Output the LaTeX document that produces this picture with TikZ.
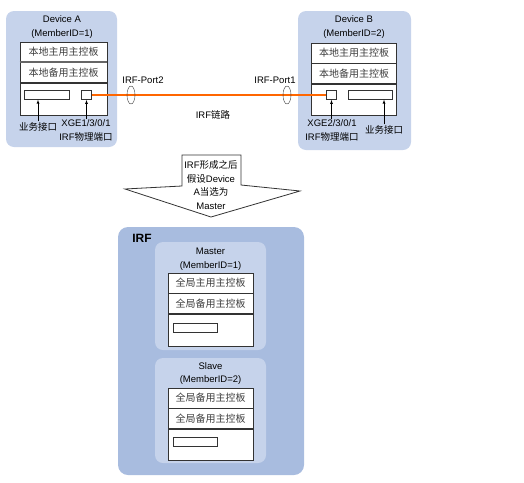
\documentclass[tikz,border=0pt]{standalone}
\usepackage{fontspec}
\setmainfont{Liberation Sans}
\newfontfamily\cjk{Noto Sans CJK SC}
\usetikzlibrary{shapes.geometric}
\definecolor{devblue}{RGB}{198,211,235}
\definecolor{irfblue}{RGB}{168,188,223}
\definecolor{linkorange}{RGB}{255,102,0}
\tikzset{
  devbg/.style={fill=devblue, rounded corners=8pt},
  txt/.style={font=\fontsize{9.5}{13.5}\selectfont, align=center, inner sep=1pt},
  row/.style={draw=black!80, fill=white, line width=0.8pt, minimum height=19.5pt, inner sep=0pt, font=\cjk\fontsize{10}{12}\selectfont, text=black!75},
  port/.style={draw=black!80, fill=white, line width=0.8pt, inner sep=0pt, minimum height=8.5pt},
  ring/.style={draw=black!80, ellipse, inner sep=0pt, minimum width=8pt, minimum height=18pt},
  irflink/.style={linkorange, line width=1.6pt}
}
\begin{document}
\begin{tikzpicture}[x=1pt,y=-1pt]
\useasboundingbox (0,0) rectangle (524,482);

% Device A
\fill[devbg] (6,11) rectangle (117,147);
\node[txt] (atitle) at (62,27) {Device A\\(MemberID=1)};
\node[row, minimum width=87pt, anchor=north] (a1) at (63.5,42) {本地主用主控板};
\node[row, minimum width=87pt, anchor=north] (a2) at (a1.south) {本地备用主控板};
\node[row, minimum width=87pt, minimum height=32pt, anchor=north] (a3) at (a2.south) {};
\draw[black!60, line width=1.8pt] (a1.south west) -- (a1.south east);
\node[port, minimum width=45pt] (aport) at (46.5,95) {};
\node[port, minimum width=10pt, minimum height=9pt] (aphy) at (86.5,95) {};
\node[txt] (abiz) at (38,127) {\cjk 业务接口};
\node[txt] (axge) at (86,130.5) {XGE1/3/0/1\\IRF{\cjk 物理端口}};
\draw[-latex] (abiz.north) -- (abiz.north |- aport.south);
\draw[-latex] (aphy.south |- axge.north) -- (aphy.south);

% Device B
\fill[devbg] (298,11) rectangle (411,150);
\node[txt] (btitle) at (354,27) {Device B\\(MemberID=2)};
\node[row, minimum width=85pt, anchor=north] (b1) at (354,43) {本地主用主控板};
\node[row, minimum width=85pt, anchor=north] (b2) at (b1.south) {本地备用主控板};
\node[row, minimum width=85pt, minimum height=31pt, anchor=north] (b3) at (b2.south) {};
\node[port, minimum width=10pt, minimum height=9pt] (bphy) at (331.5,95) {};
\node[port, minimum width=44pt] (bport) at (370,95) {};
\node[txt] (bxge) at (332,130.5) {XGE2/3/0/1\\IRF{\cjk 物理端口}};
\node[txt] (bbiz) at (384,130) {\cjk 业务接口};
\draw[-latex] (bphy.south |- bxge.north) -- (bphy.south);
\draw[-latex] (bbiz.north) -- (bbiz.north |- bport.south);

% IRF link
\draw[irflink] (aphy.east) -- (bphy.west);
\node[ring] (port2ring) at (131,95) {};
\node[ring] (port1ring) at (287,95) {};
\node[txt] (port2lab) at (143,80) {IRF-Port2};
\node[txt] (port1lab) at (275,80) {IRF-Port1};
\node[txt] (linklab) at (213,115) {IRF{\cjk 链路}};

% election arrow
\draw[black!80, fill=white, line width=0.8pt] (182,155) -- (241,155) -- (241,185) -- (300,191)
  -- (211,217) -- (125,189) -- (182,186) -- cycle;
\node[txt] (elect) at (211,185) {IRF{\cjk 形成之后}\\{\cjk 假设}Device\\A{\cjk 当选为}\\Master};

% IRF
\fill[irfblue, rounded corners=10pt] (118,227) rectangle (304,475);
\node[font=\bfseries\fontsize{12}{14}\selectfont, inner sep=0pt] (irflab) at (142,238) {IRF};

% Master
\fill[devbg] (155,242) rectangle (266,350);
\node[txt] (mtitle) at (210.5,259) {Master\\(MemberID=1)};
\node[row, minimum width=85pt, anchor=north] (m1) at (210.5,273) {全局主用主控板};
\node[row, minimum width=85pt, anchor=north] (m2) at (m1.south) {全局备用主控板};
\node[row, minimum width=85pt, minimum height=32pt, anchor=north] (m3) at (m2.south) {};
\node[port, minimum width=44pt] (mport) at (195,328) {};

% Slave
\fill[devbg] (155,358) rectangle (266,463);
\node[txt] (stitle) at (210.5,373.5) {Slave\\(MemberID=2)};
\node[row, minimum width=85pt, anchor=north] (s1) at (210.5,388) {全局备用主控板};
\node[row, minimum width=85pt, anchor=north] (s2) at (s1.south) {全局备用主控板};
\node[row, minimum width=85pt, minimum height=31pt, anchor=north] (s3) at (s2.south) {};
\node[port, minimum width=44pt, minimum height=9pt] (sport) at (195,442) {};

\end{tikzpicture}
\end{document}
